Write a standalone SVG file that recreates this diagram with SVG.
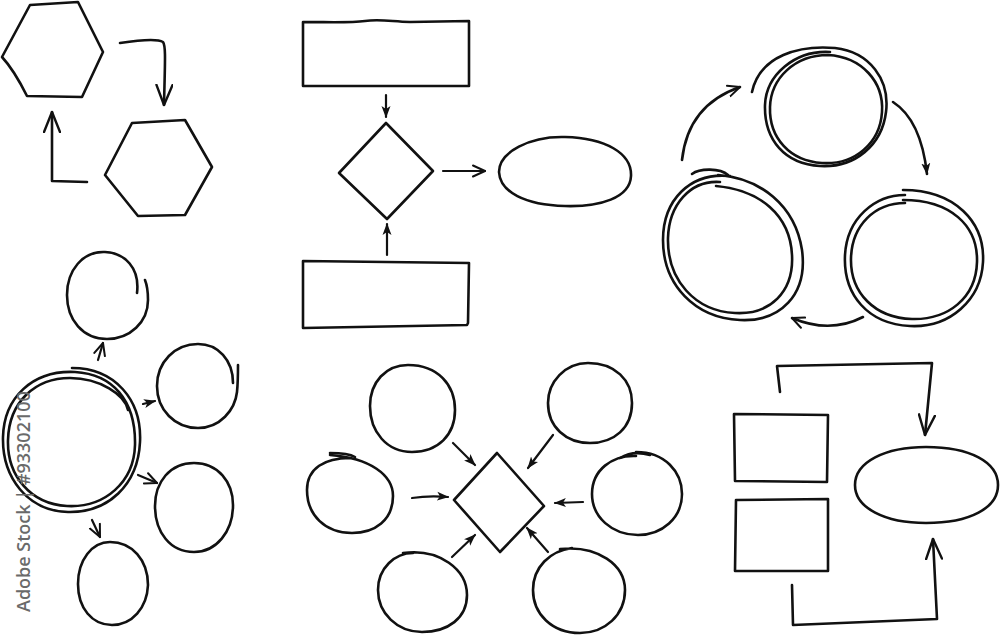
<svg xmlns="http://www.w3.org/2000/svg" width="1000" height="635" viewBox="0 0 1000 635">
<style>
.s{fill:none;stroke:#111;stroke-width:2.6;stroke-linecap:round;stroke-linejoin:round}
.t{fill:none;stroke:#111;stroke-width:2.2;stroke-linecap:round;stroke-linejoin:round}
.wm{font-family:"Open Sans","Noto Sans",sans-serif;font-size:18px;font-weight:600;fill:#6a6a6a}
</style>
<defs>
<marker id="openL" viewBox="0 0 22 18" refX="21" refY="9" markerWidth="22" markerHeight="18" markerUnits="userSpaceOnUse" orient="auto">
<path d="M1,1 L21,9 L1,17" fill="none" stroke="#111" stroke-width="2.4" stroke-linecap="round" stroke-linejoin="round"/>
</marker>
<marker id="open" viewBox="0 0 14 14" refX="13" refY="7" markerWidth="14" markerHeight="14" markerUnits="userSpaceOnUse" orient="auto">
<path d="M1,1.5 L13,7 L1,12.5" fill="none" stroke="#111" stroke-width="2" stroke-linecap="round" stroke-linejoin="round"/>
</marker>
<marker id="fill" viewBox="0 0 12 10" refX="11" refY="5" markerWidth="12" markerHeight="10" markerUnits="userSpaceOnUse" orient="auto">
<path d="M0,0.5 L12,5 L0,9.5 L3,5 Z" fill="#111"/>
</marker>
</defs>
<rect width="1000" height="635" fill="#fff"/>

<!-- Hexagon cycle -->
<g id="hex1"><path class="s" d="M30,5 L78,2 L103,52 L82,97 L27,96 Q14,70 2,57 Z"/></g>
<g id="hex2"><path class="s" d="M132,123 L185,120 L212,167 L185,215 L138,216 L105,175 Z"/></g>

<!-- Flowchart -->
<g id="fc-rect-top"><path class="s" d="M303,22 C330,22 350,23 365,21 C378,19 388,21 410,22 L469,21 L469,86 L303,86 Z"/></g>
<g id="fc-diamond"><path class="s" d="M386,123 L433,171 L387,219 L339,173 Z"/></g>
<g id="fc-ellipse"><path class="s" d="M565,137 C605,138 632,153 631,176 C630,198 600,207 565,206 C525,205 500,192 499,172 C499,152 530,136 565,137 Z"/></g>
<g id="fc-rect-bottom"><path class="s" d="M303,261 L469,263 L468,323 L467,325 L303,328 Z"/></g>

<!-- Circle cycle -->
<g id="cyc-top">
<path class="s" d="M752,92 C760,55 800,45 835,48 C870,52 890,80 886,112 C882,145 855,168 820,166 C785,164 764,140 765,105 C766,75 795,50 830,52"/>
<path class="s" d="M828,55 C862,57 884,82 882,112 C880,143 855,165 822,163 C790,161 769,138 770,107 C771,78 795,55 828,55 Z"/>
</g>
<g id="cyc-left">
<path class="s" d="M718,175 C760,178 795,205 802,250 C808,295 780,322 740,320 C695,318 663,285 663,240 C663,200 690,172 730,176"/>
<path class="s" d="M692,174 C700,168 720,168 728,175"/>
<path class="s" d="M716,186 C760,190 790,215 792,255 C794,292 770,315 735,313 C695,311 667,280 668,238 C669,205 690,180 720,182"/>
</g>
<g id="cyc-right">
<path class="s" d="M903,190 C955,190 985,222 983,262 C981,300 950,328 910,326 C868,324 843,295 845,255 C847,218 875,195 905,195"/>
<path class="s" d="M903,200 C950,200 978,225 977,262 C976,298 948,320 912,319 C875,318 850,293 851,258 C852,225 875,203 905,203"/>
</g>

<!-- Radial -->
<g id="rad-center">
<path class="s" d="M72,368 C115,368 142,400 140,442 C138,485 108,513 68,512 C28,511 2,478 3,437 C4,398 32,370 75,372 C112,374 136,400 135,445 C134,482 105,508 67,506 C30,504 7,475 8,440 C9,402 35,378 70,378 C100,378 125,395 128,410"/>
</g>
<g id="rad-top">
<path class="s" d="M137,293 C140,268 125,253 105,252 C83,251 67,270 67,295 C67,320 83,339 107,339 C130,339 148,322 148,300 C148,292 147,285 145,280"/>
</g>
<g id="rad-r1">
<path class="s" d="M233,383 C233,360 218,344 198,344 C175,344 157,362 157,386 C157,410 175,428 198,428 C220,428 235,410 237,392 C238,382 238,373 238,365"/>
</g>
<g id="rad-r2"><path class="s" d="M194,463 C218,463 233,482 233,505 C233,532 216,552 194,552 C170,552 155,532 155,506 C155,482 170,463 194,463 Z"/></g>
<g id="rad-bottom"><path class="s" d="M110,542 C132,542 148,560 148,585 C147,608 132,625 112,625 C92,625 78,608 78,584 C78,560 92,542 110,542 Z"/></g>

<!-- Bottom middle -->
<g id="bm-diamond"><path class="s" d="M497,453 L544,506 L500,552 L454,500 Z"/></g>
<g id="bm-tl"><path class="s" d="M408,365 C438,365 455,385 455,410 C455,435 438,452 412,452 C387,452 370,432 370,406 C370,382 386,365 408,365 Z"/></g>
<g id="bm-tr"><path class="s" d="M588,363 C615,363 632,380 632,403 C632,428 614,443 590,443 C566,443 548,427 548,403 C548,382 565,363 588,363 Z"/></g>
<g id="bm-ml"><path class="s" d="M330,455 C370,458 393,475 393,496 C393,520 375,533 352,533 C325,533 307,515 307,490 C307,468 325,458 350,458"/><path class="s" d="M330,453 C340,453 350,454 355,457"/></g>
<g id="bm-mr"><path class="s" d="M636,452 C665,452 682,472 682,494 C682,518 662,535 638,535 C612,535 592,517 592,494 C592,470 612,455 636,456 L636,456"/><path class="s" d="M620,458 C630,452 640,452 650,455"/></g>
<g id="bm-bl"><path class="s" d="M403,553 C440,548 467,570 467,595 C467,618 448,632 422,632 C397,632 378,613 378,590 C378,568 395,553 413,553"/></g>
<g id="bm-br"><path class="s" d="M560,549 C598,545 625,565 625,590 C625,615 605,633 580,633 C552,633 533,614 533,590 C533,567 550,551 572,548"/></g>

<!-- Bottom right -->
<g id="br-rect1"><path class="s" d="M734,414 L828,415 L827,482 L735,481 Z"/></g>
<g id="br-rect2"><path class="s" d="M736,500 L828,499 L828,571 L735,571 Z"/></g>
<g id="br-ellipse"><path class="s" d="M926,447 C970,447 998,462 998,485 C998,508 970,523 926,523 C885,523 855,508 855,485 C855,462 885,447 926,447 Z"/></g>

<!-- Connectors -->
<g id="connectors">
<path class="s" d="M120,43 C140,40 158,39 163,42 C166,46 165,62 164,105" marker-end="url(#openL)"/>
<path class="s" d="M87,182 L52,181 L52,112" marker-end="url(#openL)"/>

<path class="t" d="M386,95 L386,117" marker-end="url(#fill)"/>
<path class="t" d="M443,171 L485,171" marker-end="url(#open)"/>
<path class="t" d="M387,255 L387,224" marker-end="url(#fill)"/>

<path class="s" d="M682,160 Q688,105 740,87" marker-end="url(#open)"/>
<path class="s" d="M893,102 Q921,120 927,174" marker-end="url(#fill)"/>
<path class="s" d="M863,317 Q830,334 792,318" marker-end="url(#open)"/>

<path class="t" d="M98,360 L103,343" marker-end="url(#open)"/>
<path class="t" d="M143,404 L155,401" marker-end="url(#fill)"/>
<path class="t" d="M138,475 L157,483" marker-end="url(#open)"/>
<path class="t" d="M92,520 L100,537" marker-end="url(#open)"/>

<path class="t" d="M453,443 L475,465" marker-end="url(#fill)"/>
<path class="t" d="M553,435 L528,468" marker-end="url(#fill)"/>
<path class="t" d="M412,498 C425,496 435,496 448,497" marker-end="url(#fill)"/>
<path class="t" d="M583,502 L555,503" marker-end="url(#fill)"/>
<path class="t" d="M452,557 L475,535" marker-end="url(#fill)"/>
<path class="t" d="M548,552 L527,528" marker-end="url(#fill)"/>

<path class="s" d="M780,392 L777,366 L932,363 L925,435" marker-end="url(#openL)"/>
<path class="s" d="M792,585 L793,625 L937,619 L933,539" marker-end="url(#openL)"/>
</g>

<text class="wm" transform="translate(30,612) rotate(-90)">Adobe Stock | #93302100</text>
</svg>
